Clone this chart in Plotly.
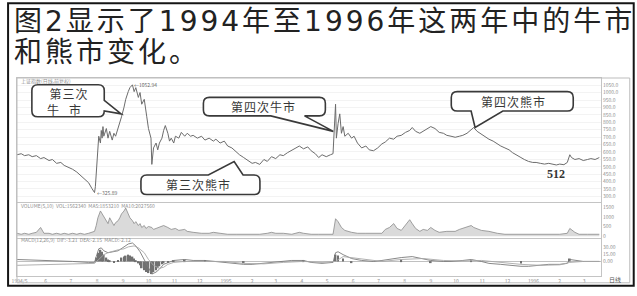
import plotly.graph_objects as go

# ---------------- data ----------------
price_dates = [
    "1994-04-28", "1994-05-03", "1994-05-07", "1994-05-12", "1994-05-16", "1994-05-21", "1994-05-26", "1994-05-30",
    "1994-06-05", "1994-06-09", "1994-06-14", "1994-06-19", "1994-06-23", "1994-06-28",
    "1994-07-03", "1994-07-08", "1994-07-12", "1994-07-17", "1994-07-22", "1994-07-26", "1994-07-29", "1994-07-30", "1994-07-31",
    "1994-08-01", "1994-08-02", "1994-08-03", "1994-08-05", "1994-08-06", "1994-08-07", "1994-08-08", "1994-08-09", "1994-08-12",
    "1994-08-14", "1994-08-16", "1994-08-19", "1994-08-21", "1994-08-23", "1994-08-26", "1994-08-28", "1994-08-30",
    "1994-09-02", "1994-09-04", "1994-09-07", "1994-09-09", "1994-09-12", "1994-09-14", "1994-09-16", "1994-09-19", "1994-09-21",
    "1994-09-23", "1994-09-26", "1994-09-28", "1994-09-29",
    "1994-10-01", "1994-10-04", "1994-10-05", "1994-10-07", "1994-10-10", "1994-10-12", "1994-10-14", "1994-10-17", "1994-10-19",
    "1994-10-21", "1994-10-24", "1994-10-26", "1994-10-28", "1994-10-31",
    "1994-11-02", "1994-11-06", "1994-11-09", "1994-11-13", "1994-11-16", "1994-11-20", "1994-11-23", "1994-11-28",
    "1994-12-03", "1994-12-07", "1994-12-12", "1994-12-17", "1994-12-20", "1994-12-25", "1994-12-30",
    "1995-01-03", "1995-01-08", "1995-01-13", "1995-01-17", "1995-01-22", "1995-01-27",
    "1995-02-01", "1995-02-05", "1995-02-10", "1995-02-15", "1995-02-19", "1995-02-24",
    "1995-03-01", "1995-03-06", "1995-03-10", "1995-03-15", "1995-03-20", "1995-03-25", "1995-03-29",
    "1995-04-03", "1995-04-08", "1995-04-12", "1995-04-17", "1995-04-21", "1995-04-25", "1995-04-30",
    "1995-05-05", "1995-05-08", "1995-05-11", "1995-05-12", "1995-05-14", "1995-05-16", "1995-05-18", "1995-05-20", "1995-05-22",
    "1995-05-26", "1995-05-30",
    "1995-06-02", "1995-06-06", "1995-06-11", "1995-06-16", "1995-06-20", "1995-06-25", "1995-06-30",
    "1995-07-05", "1995-07-09", "1995-07-14", "1995-07-19", "1995-07-23", "1995-07-28",
    "1995-08-02", "1995-08-07", "1995-08-10", "1995-08-14", "1995-08-19", "1995-08-23", "1995-08-28",
    "1995-09-01", "1995-09-06", "1995-09-11", "1995-09-16", "1995-09-20", "1995-09-25", "1995-09-30",
    "1995-10-05", "1995-10-09", "1995-10-14", "1995-10-19", "1995-10-22", "1995-10-26", "1995-10-31",
    "1995-11-04", "1995-11-09", "1995-11-14", "1995-11-19", "1995-11-23", "1995-11-28",
    "1995-12-03", "1995-12-07", "1995-12-12", "1995-12-17", "1995-12-21", "1995-12-26", "1995-12-31",
    "1996-01-04", "1996-01-09", "1996-01-14", "1996-01-19", "1996-01-23", "1996-01-28",
    "1996-02-01", "1996-02-06", "1996-02-10", "1996-02-13", "1996-02-15", "1996-02-19", "1996-02-24", "1996-02-29",
    "1996-03-05", "1996-03-09", "1996-03-14", "1996-03-19",
]
price_close = [
    581, 588, 575, 581, 568, 575, 555, 562,
    542, 549, 523, 529, 509, 496,
    483, 464, 444, 418, 392, 352, 325.89, 365, 444,
    529, 627, 706, 660, 745, 693, 771, 706, 758,
    693, 739, 680, 726, 706, 758, 791, 837,
    902, 955, 1007, 1034, 1052.94, 1007, 1034, 968, 1001,
    922, 955, 857, 837,
    758, 693, 516, 627, 660, 614, 660, 693, 745,
    778, 726, 673, 693, 660,
    706, 693, 732, 706, 726, 706, 712, 693,
    706, 680, 693, 673, 686, 660, 673,
    640, 627, 601, 581, 562, 542,
    523, 529, 516, 549, 536, 568,
    555, 581, 575, 595, 614, 627, 640,
    621, 634, 608, 588, 562, 581, 568,
    581, 588, 922, 693, 791, 857, 726, 771, 706,
    726, 693,
    706, 660, 627, 640, 614, 608, 627,
    654, 667, 693, 686, 706, 712,
    732, 745, 765, 739, 726, 739, 758,
    771, 758, 732, 726, 712, 706, 699,
    706, 712, 726, 752, 765, 739, 719,
    706, 686, 673, 654, 640, 627,
    614, 595, 581, 562, 549, 536, 529,
    529, 523, 518, 523, 516, 512,
    518, 514, 529, 581, 562, 549, 555, 542,
    549, 555, 549, 562,
]

vol_dates = [
    "1994-04-28", "1994-05-03", "1994-05-07", "1994-05-12", "1994-05-16", "1994-05-21", "1994-05-26", "1994-05-30",
    "1994-06-05", "1994-06-09", "1994-06-14", "1994-06-19", "1994-06-23", "1994-06-28",
    "1994-07-03", "1994-07-08", "1994-07-12", "1994-07-17", "1994-07-22", "1994-07-26", "1994-07-29", "1994-07-31",
    "1994-08-02", "1994-08-05", "1994-08-07", "1994-08-09", "1994-08-12", "1994-08-14", "1994-08-16", "1994-08-19",
    "1994-08-21", "1994-08-23", "1994-08-26", "1994-08-28", "1994-08-30",
    "1994-09-02", "1994-09-04", "1994-09-07", "1994-09-09", "1994-09-12", "1994-09-14", "1994-09-16", "1994-09-19",
    "1994-09-21", "1994-09-23", "1994-09-26", "1994-09-28",
    "1994-10-01", "1994-10-05", "1994-10-07", "1994-10-10", "1994-10-14", "1994-10-19", "1994-10-24", "1994-10-28",
    "1994-11-02", "1994-11-06", "1994-11-13", "1994-11-16", "1994-11-23",
    "1994-12-03", "1994-12-12", "1994-12-17", "1994-12-25",
    "1995-01-03", "1995-01-13", "1995-01-22", "1995-02-01", "1995-02-10", "1995-02-19", "1995-02-24",
    "1995-03-01", "1995-03-10", "1995-03-20", "1995-03-29", "1995-04-03", "1995-04-12", "1995-04-21", "1995-04-30",
    "1995-05-08", "1995-05-11", "1995-05-14", "1995-05-18", "1995-05-22", "1995-05-30",
    "1995-06-06", "1995-06-16", "1995-06-25", "1995-07-05", "1995-07-09", "1995-07-14", "1995-07-19", "1995-07-23",
    "1995-07-28", "1995-08-02", "1995-08-07", "1995-08-10", "1995-08-14", "1995-08-19", "1995-08-23", "1995-08-28",
    "1995-09-01", "1995-09-06", "1995-09-11", "1995-09-20", "1995-09-30",
    "1995-10-05", "1995-10-09", "1995-10-14", "1995-10-19", "1995-10-22", "1995-10-26", "1995-10-31",
    "1995-11-09", "1995-11-19", "1995-11-28", "1995-12-07", "1995-12-17", "1995-12-26",
    "1996-01-04", "1996-01-14", "1996-01-23", "1996-02-01", "1996-02-10", "1996-02-13", "1996-02-19", "1996-02-24",
    "1996-03-05", "1996-03-14", "1996-03-19",
]
vol_vals = [
    150, 100, 150, 100, 150, 200, 450, 150,
    150, 100, 150, 100, 150, 100,
    150, 100, 150, 100, 150, 200, 250, 550,
    950, 1300, 1150, 1050, 800, 650, 950, 750,
    550, 700, 800, 950, 1150,
    1300, 1450, 1150, 950, 800, 650, 750, 550,
    650, 450, 550, 400,
    500, 450, 350, 400, 450, 550, 450, 350,
    400, 300, 350, 250, 200,
    150, 150, 200, 150,
    100, 100, 100, 100, 100, 150, 200,
    150, 150, 100, 200, 150, 100, 100, 100,
    100, 900, 750, 450, 300, 200,
    150, 150, 150, 150, 350, 450, 650, 400,
    300, 550, 850, 650, 400, 250, 350, 300,
    450, 300, 200, 250, 250,
    350, 400, 450, 550, 450, 400, 300,
    250, 150, 100, 100, 100, 100,
    100, 100, 100, 100, 150, 400, 200, 100,
    100, 100, 100,
]

dif_dates = [
    "1994-04-28", "1994-05-16", "1994-06-09", "1994-07-03", "1994-07-22", "1994-07-29", "1994-07-31", "1994-08-03",
    "1994-08-06", "1994-08-09", "1994-08-14", "1994-08-21", "1994-08-26", "1994-09-02", "1994-09-07", "1994-09-12",
    "1994-09-16", "1994-09-21", "1994-09-26", "1994-09-29", "1994-10-05", "1994-10-10", "1994-10-14", "1994-10-19",
    "1994-10-24", "1994-10-31", "1994-11-13", "1994-11-23", "1994-12-07", "1994-12-17", "1994-12-30",
    "1995-01-08", "1995-01-22", "1995-02-01", "1995-02-15", "1995-02-24", "1995-03-10", "1995-03-20", "1995-04-03",
    "1995-04-12", "1995-04-25", "1995-05-08", "1995-05-11", "1995-05-14", "1995-05-20", "1995-05-26", "1995-05-30",
    "1995-06-11", "1995-06-25", "1995-07-05", "1995-07-19", "1995-07-28", "1995-08-10", "1995-08-23", "1995-09-01",
    "1995-09-16", "1995-09-25", "1995-10-09", "1995-10-19", "1995-10-31", "1995-11-09", "1995-11-23", "1995-12-03",
    "1995-12-17", "1995-12-26", "1996-01-09", "1996-01-19", "1996-02-01", "1996-02-10", "1996-02-13", "1996-02-19",
    "1996-02-29", "1996-03-19",
]
dif_vals = [
    4, 3, 2, 0, -2, -2, 10, 26,
    28, 22, 18, 20, 22, 30, 36, 38,
    32, 20, 4, -6, -26, -22, -16, -6,
    -2, 2, 4, 2, 2, 0, -2,
    -4, -6, -6, -4, -2, 0, 2, 2,
    -2, -4, -2, 18, 20, 14, 10, 6,
    2, 0, 2, 6, 8, 10, 6, 2,
    0, 0, 2, 4, 0, -4, -6, -8,
    -10, -10, -8, -6, -6, -4, 4, 2,
    0, 0,
]

dea_dates = [
    "1994-04-28", "1994-05-16", "1994-06-09", "1994-07-03", "1994-07-22", "1994-07-29", "1994-08-03", "1994-08-09",
    "1994-08-14", "1994-08-21", "1994-08-26", "1994-09-02", "1994-09-07", "1994-09-14", "1994-09-19", "1994-09-26",
    "1994-10-01", "1994-10-07", "1994-10-14", "1994-10-19", "1994-10-24", "1994-10-31", "1994-11-13", "1994-12-07",
    "1994-12-30", "1995-01-22", "1995-02-15", "1995-03-10", "1995-04-03", "1995-04-25", "1995-05-11", "1995-05-20",
    "1995-05-30", "1995-06-11", "1995-06-25", "1995-07-05", "1995-07-28", "1995-08-23", "1995-09-16", "1995-10-09",
    "1995-10-31", "1995-11-23", "1995-12-17", "1996-01-09", "1996-02-01", "1996-02-13", "1996-02-29", "1996-03-19",
]
dea_vals = [
    -8, -7, -6, -4, -3, -4, 4, 14,
    18, 22, 24, 26, 30, 32, 28, 18,
    4, -8, -14, -12, -6, -2, 0, 0,
    0, -4, -5, -2, 0, -2, 0, 10,
    8, 5, 2, 0, 4, 6, 2, 1,
    2, -2, -6, -8, -7, -2, 0, 0,
]

hist_dates = [
    "1994-07-29", "1994-07-31", "1994-08-02", "1994-08-05", "1994-08-07", "1994-08-09", "1994-08-12", "1994-08-14",
    "1994-08-16", "1994-08-21", "1994-08-26", "1994-08-30", "1994-09-02", "1994-09-04", "1994-09-07", "1994-09-09",
    "1994-09-12", "1994-09-14", "1994-09-16", "1994-09-19", "1994-09-21", "1994-09-23", "1994-09-26", "1994-09-28",
    "1994-10-01", "1994-10-04", "1994-10-05", "1994-10-07", "1994-10-10", "1994-10-12", "1994-10-14", "1994-10-17",
    "1994-10-19", "1994-10-24", "1994-10-31", "1994-11-13", "1994-12-07", "1995-01-22", "1995-04-03", "1995-05-11",
    "1995-05-14", "1995-05-20", "1995-05-30", "1995-07-28", "1995-09-01", "1995-10-19", "1995-12-17", "1996-02-13",
]
hist_vals = [
    0, 8, 18, 24, 20, 14, 8, 4,
    2, -2, 2, 8, 10, 12, 14, 12,
    10, 6, 2, -4, -8, -14, -18, -22,
    -24, -26, -26, -22, -18, -14, -10, -6,
    -4, -2, 2, 4, 2, -2, 2, 14,
    12, 6, -2, 4, -2, 2, -4, 6,
]

month_ticks = [
    "1994-05-01", "1994-06-01", "1994-07-01", "1994-08-01", "1994-09-01", "1994-10-01", "1994-11-01", "1994-12-01",
    "1995-01-01", "1995-02-01", "1995-03-01", "1995-04-01", "1995-05-01", "1995-06-01", "1995-07-01", "1995-08-01",
    "1995-09-01", "1995-10-01", "1995-11-01", "1995-12-01", "1996-01-01", "1996-02-01", "1996-03-01",
]
month_labels = [
    "1994/5", "6", "7", "8", "9", "10", "11", "12",
    "1995", "2", "3", "4", "5", "6", "7", "8",
    "9", "10", "11", "12", "1996", "2", "3",
]
price_ticks = list(range(300, 1101, 50))
price_tick_labels = [f"{v:.1f}" for v in price_ticks]
vol_ticks = [0, 500, 1000, 1500]
macd_ticks = [0, 15, 30]

peak_date, peak_val = "1994-09-12", 1052.94
low_date, low_val = "1994-07-29", 325.89
low96_date, low96_val = "1996-01-28", 512

title_line1 = "图2显示了1994年至1996年这两年中的牛市"
title_line2 = "和熊市变化。"

# ---------------- layout helpers (pixel -> paper) ----------------
W, H = 637, 296
PL, PR, PT, PB = 12, 601, 78, 282


def fx(x):
    return (x - PL) / (PR - PL)


def fy(y):
    return (PB - y) / (PB - PT)


def dom(top, bottom):
    return [fy(bottom), fy(top)]


def bubble_path(x0, y0, x1, y1, side, a, b, tip, r=6):
    def P(x, y):
        return f"{fx(x):.5f},{fy(y):.5f}"
    s = f"M{P(x0 + r, y0)}"
    if side == "top":
        s += f" L{P(a, y0)} L{P(*tip)} L{P(b, y0)}"
    s += f" L{P(x1 - r, y0)} Q{P(x1, y0)} {P(x1, y0 + r)}"
    if side == "right":
        s += f" L{P(x1, a)} L{P(*tip)} L{P(x1, b)}"
    s += f" L{P(x1, y1 - r)} Q{P(x1, y1)} {P(x1 - r, y1)}"
    if side == "bottom":
        s += f" L{P(b, y1)} L{P(*tip)} L{P(a, y1)}"
    s += f" L{P(x0 + r, y1)} Q{P(x0, y1)} {P(x0, y1 - r)}"
    s += f" L{P(x0, y0 + r)} Q{P(x0, y0)} {P(x0 + r, y0)} Z"
    return s


CJK = "Noto Sans CJK SC"
TINY = dict(family=CJK, size=5, color="#909090")

fig = go.Figure()
fig.add_trace(go.Scatter(x=price_dates, y=price_close, mode="lines",
                         line=dict(color="#6c6c6c", width=1), xaxis="x", yaxis="y"))
fig.add_trace(go.Scatter(x=vol_dates, y=vol_vals, mode="lines", fill="tozeroy",
                         fillcolor="#dadada", line=dict(color="#8a8a8a", width=0.8),
                         xaxis="x2", yaxis="y2"))
fig.add_trace(go.Bar(x=hist_dates, y=hist_vals, width=2 * 86400000,
                     marker=dict(color="#707070", line=dict(width=0)), xaxis="x3", yaxis="y3"))
fig.add_trace(go.Scatter(x=dif_dates, y=dif_vals, mode="lines",
                         line=dict(color="#7a7a7a", width=0.9), xaxis="x3", yaxis="y3"))
fig.add_trace(go.Scatter(x=dea_dates, y=dea_vals, mode="lines",
                         line=dict(color="#a8a8a8", width=0.9), xaxis="x3", yaxis="y3"))

xrange = ["1994-04-28", "1996-03-21"]
axis_common = dict(showline=True, linecolor="#c4c4c4", linewidth=1, mirror=True,
                   ticks="", zeroline=False)

fig.update_layout(
    width=W, height=H, autosize=False,
    margin=dict(l=PL, r=W - PR, t=PT, b=H - PB, pad=0),
    paper_bgcolor="white", plot_bgcolor="white",
    showlegend=False,
    xaxis=dict(domain=[0, 1], anchor="y", range=xrange, type="date",
               showticklabels=False, showgrid=False, **axis_common),
    xaxis2=dict(domain=[0, 1], anchor="y2", matches="x", type="date",
                showticklabels=False, showgrid=False, **axis_common),
    xaxis3=dict(domain=[0, 1], anchor="y3", matches="x", type="date",
                tickvals=month_ticks, ticktext=month_labels, tickfont=TINY,
                showgrid=False, **axis_common),
    yaxis=dict(domain=dom(78, 206), side="right", range=[260.5, 1099],
               tickvals=price_ticks, ticktext=price_tick_labels, tickfont=TINY,
               showgrid=True, gridcolor="#f3f3f3", **axis_common),
    yaxis2=dict(domain=dom(207, 243), side="right", range=[-100, 1700],
                tickvals=vol_ticks, tickfont=TINY, showgrid=False, **axis_common),
    yaxis3=dict(domain=dom(244, 282), side="right", range=[-30, 46],
                tickvals=macd_ticks, tickformat=".2f", tickfont=TINY, showgrid=False,
                showline=True, linecolor="#c4c4c4", linewidth=1, mirror=True, ticks="",
                zeroline=True, zerolinecolor="#c0c0c0", zerolinewidth=1),
)

shapes = [
    # outer black frame of the picture
    dict(type="rect", xref="paper", yref="paper", x0=fx(3), x1=fx(634), y0=fy(292), y1=fy(1),
         line=dict(color="#151515", width=2), fillcolor="rgba(0,0,0,0)", layer="above"),
    # grey frame of the trading chart
    dict(type="rect", xref="paper", yref="paper", x0=fx(12), x1=fx(630), y0=fy(289), y1=fy(78),
         line=dict(color="#bdbdbd", width=1), fillcolor="rgba(0,0,0,0)", layer="above"),
]
bubbles = [
    (27, 85, 100, 118, "right", 101, 112, (117, 115)),
    (137, 178, 257, 198, "top", 205, 240, (231, 164)),
    (200, 98, 323, 117, "bottom", 268, 302, (331, 133)),
    (450, 92, 573, 112, "bottom", 470, 502, (474, 129)),
]
for bb in bubbles:
    shapes.append(dict(type="path", xref="paper", yref="paper", path=bubble_path(*bb),
                       line=dict(color="#3a3a3a", width=1.6), fillcolor="white", layer="above"))
fig.update_layout(shapes=shapes)

TFONT = dict(family="DejaVu Sans, " + CJK, size=28, color="#222222")
BFONT = dict(family=CJK, size=12, color="#383838")


def spaced(text, px):
    return f'<span style="letter-spacing:{px}px">{text}</span>'


ann = [
    dict(text=spaced(title_line1, 3), x=fx(7), y=fy(20), xanchor="left", yanchor="middle", font=TFONT),
    dict(text=spaced(title_line2, 3), x=fx(7), y=fy(52), xanchor="left", yanchor="middle", font=TFONT),
    dict(text=spaced("第三次", 1) + "<br>" + spaced("牛市", 10),
         x=fx(64), y=fy(102), xanchor="center", yanchor="middle", font=BFONT),
    dict(text=spaced("第三次熊市", 1), x=fx(195), y=fy(188),
         xanchor="center", yanchor="middle", font=BFONT),
    dict(text=spaced("第四次牛市", 1), x=fx(261), y=fy(107.5),
         xanchor="center", yanchor="middle", font=BFONT),
    dict(text=spaced("第四次熊市", 1), x=fx(513), y=fy(102),
         xanchor="center", yanchor="middle", font=BFONT),
    dict(text="上证指数(日线,前复权)", x=fx(14), y=fy(81.5), xanchor="left", yanchor="middle", font=TINY),
    dict(text="VOLUME(5,10)  VOL:1562340  MA5:1853210  MA10:2027560", x=fx(14), y=fy(209),
         xanchor="left", yanchor="middle", font=TINY),
    dict(text="MACD(12,26,9)  DIF:-3.21  DEA:-2.15  MACD:-2.12", x=fx(14), y=fy(244.5),
         xanchor="left", yanchor="middle", font=TINY),
    dict(text="日线", x=fx(615), y=fy(286), xanchor="center", yanchor="middle",
         font=dict(family=CJK, size=6, color="#555555")),
]
for a in ann:
    a.update(xref="paper", yref="paper", showarrow=False)

ann += [
    dict(text=f"←{peak_val:.2f}", x=peak_date, y=peak_val, xref="x", yref="y", xanchor="left",
         yanchor="middle", showarrow=False, font=dict(family=CJK, size=5, color="#666666")),
    dict(text=f"←{low_val:.2f}", x=low_date, y=low_val, xref="x", yref="y", xanchor="left",
         yanchor="middle", showarrow=False, font=dict(family=CJK, size=5, color="#666666")),
    dict(text=f"<b>{low96_val}</b>", x=low96_date, y=low96_val, xref="x", yref="y",
         xanchor="center", yanchor="middle", yshift=-9, showarrow=False,
         font=dict(family="Liberation Serif", size=12, color="#333333")),
]
fig.update_layout(annotations=ann)

fig.write_html("out.html")
